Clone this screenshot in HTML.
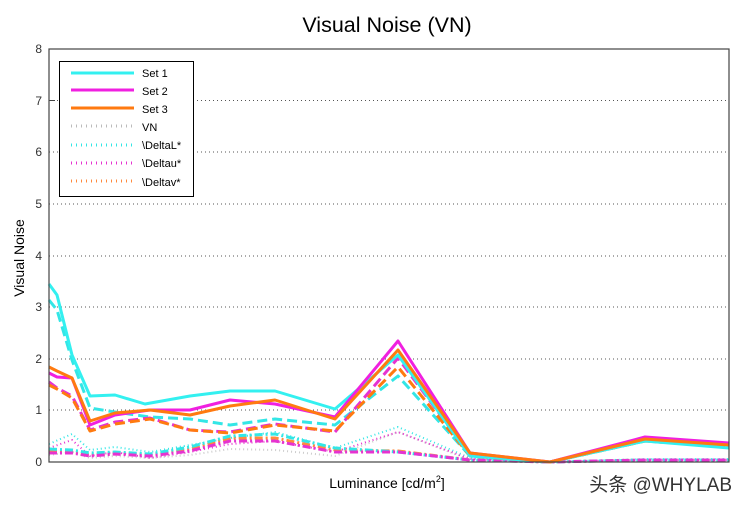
<!DOCTYPE html>
<html><head><meta charset="utf-8"><style>
body{margin:0;background:#fff;}
svg text{font-family:"Liberation Sans","Noto Sans CJK SC",sans-serif;}
</style></head><body>
<svg width="747" height="508" viewBox="0 0 747 508" xmlns="http://www.w3.org/2000/svg">
<rect width="747" height="508" fill="#fff"/>
<text x="387" y="32" font-size="21.5" text-anchor="middle" fill="#000">Visual Noise (VN)</text>
<g stroke="#555" stroke-dasharray="1,3" stroke-width="1">
<line x1="49" y1="100.5" x2="729" y2="100.5"/>
<line x1="49" y1="152" x2="729" y2="152"/>
<line x1="49" y1="204" x2="729" y2="204"/>
<line x1="49" y1="256" x2="729" y2="256"/>
<line x1="49" y1="307" x2="729" y2="307"/>
<line x1="49" y1="359" x2="729" y2="359"/>
<line x1="49" y1="410" x2="729" y2="410"/>
</g>
<g font-size="12" fill="#333" text-anchor="end">
<text x="42" y="53">8</text><text x="42" y="105">7</text><text x="42" y="156">6</text>
<text x="42" y="208">5</text><text x="42" y="260">4</text><text x="42" y="311">3</text>
<text x="42" y="363">2</text><text x="42" y="414">1</text><text x="42" y="466">0</text>
</g>
<g fill="none" stroke-width="3" stroke-linejoin="round">
<polyline stroke="#ccc" stroke-width="2" stroke-dasharray="1,3" points="49,455 72,452 90,458 115,456 150,458 190,455 230,449 275,450 335,456 398,432 470,460 550,462 645,460 729,460"/>
<polyline stroke="#33e6e6" stroke-width="2" stroke-dasharray="1,3" points="49,444 72,434 90,450 115,447 150,452 190,445 230,438 275,432 335,448 398,427 470,458 550,462 645,459 729,459"/>
<polyline stroke="#e633d0" stroke-width="2" stroke-dasharray="1,3" points="49,448 72,440 90,456 115,452 150,458 190,452 230,444 275,441 335,452 398,432 470,459 550,462 645,460 729,460"/>
<polyline stroke="#ff8a3d" stroke-dasharray="8,3,2,3" points="49,451 72,452 90,455 115,453 150,455 190,449 230,438 275,438 335,450 398,451 470,460 550,462 645,460 729,460"/>
<polyline stroke="#33e6e6" stroke-dasharray="8,3,2,3" points="49,449 72,450 90,453 115,452 150,454 190,447 230,436 275,434 335,448 398,452 470,460 550,462 645,460 729,460"/>
<polyline stroke="#e633d0" stroke-dasharray="8,3,2,3" points="49,453 72,453 90,456 115,454 150,456 190,451 230,441 275,441 335,452 398,452 470,460 550,462 645,460 729,460"/>
<polyline stroke="#33e6e6" stroke-dasharray="10,5" points="49,300 57,310 72,360 90,408 115,412 150,417 190,419 230,425 275,419 335,425 398,376 470,456 550,462 645,441 729,447"/>
<polyline stroke="#e633d0" stroke-dasharray="10,5" points="49,382 57,388 72,396 90,430 115,422 150,418 190,430 230,432 275,424 335,432 398,358 470,455 550,462 645,440 729,446"/>
<polyline stroke="#ff7a10" stroke-dasharray="10,5" points="49,385 57,389 72,398 90,431 115,424 150,419 190,430 230,433 275,425 335,431 398,367 470,456 550,462 645,441 729,447"/>
<polyline stroke="#33f0f0" points="49,284 57,295 72,355 90,396 115,395 145,404 190,396 230,391 275,391 335,409 398,355 470,456 550,462 645,441 729,448"/>
<polyline stroke="#f020e0" points="49,373 57,377 72,378 90,425 115,415 150,410 190,410 230,400 275,404 335,417 398,341 470,453 550,462 645,437 729,443"/>
<polyline stroke="#ff7a10" points="49,367 57,371 72,378 90,421 115,413 150,410 190,415 230,406 275,400 335,419 398,350 470,453 550,462 645,439 729,445"/>
</g>
<rect x="49" y="49" width="680" height="413" fill="none" stroke="#444" stroke-width="1.2"/>
<line x1="49" y1="100.5" x2="55" y2="100.5" stroke="#444"/>
<g>
<rect x="59.5" y="61.5" width="134" height="135" fill="#fff" stroke="#000" stroke-width="1"/>
<line x1="71" y1="73" x2="134" y2="73" stroke="#33f0f0" stroke-width="3"/>
<line x1="71" y1="90" x2="134" y2="90" stroke="#f020e0" stroke-width="3"/>
<line x1="71" y1="108" x2="134" y2="108" stroke="#ff7a10" stroke-width="3"/>
<line x1="71" y1="126" x2="134" y2="126" stroke="#bbb" stroke-width="3" stroke-dasharray="1,4"/>
<line x1="71" y1="145" x2="134" y2="145" stroke="#33e6e6" stroke-width="3" stroke-dasharray="1,4"/>
<line x1="71" y1="163" x2="134" y2="163" stroke="#e633d0" stroke-width="3" stroke-dasharray="1,4"/>
<line x1="71" y1="181" x2="134" y2="181" stroke="#ff8a3d" stroke-width="3" stroke-dasharray="1,4"/>
<g font-size="11" fill="#000">
<text x="142" y="77">Set 1</text><text x="142" y="95">Set 2</text><text x="142" y="113">Set 3</text>
<text x="142" y="131">VN</text><text x="142" y="149">\DeltaL*</text><text x="142" y="167">\Deltau*</text><text x="142" y="186">\Deltav*</text>
</g>
</g>
<text x="387" y="488" font-size="14" text-anchor="middle" fill="#000">Luminance [cd/m<tspan font-size="9" dy="-6">2</tspan><tspan dy="6">]</tspan></text>
<text transform="translate(24,258) rotate(-90)" font-size="14" text-anchor="middle" fill="#000">Visual Noise</text>
<text x="732" y="491" font-size="19" text-anchor="end" fill="#333">头条 @WHYLAB</text>
</svg>
</body></html>
